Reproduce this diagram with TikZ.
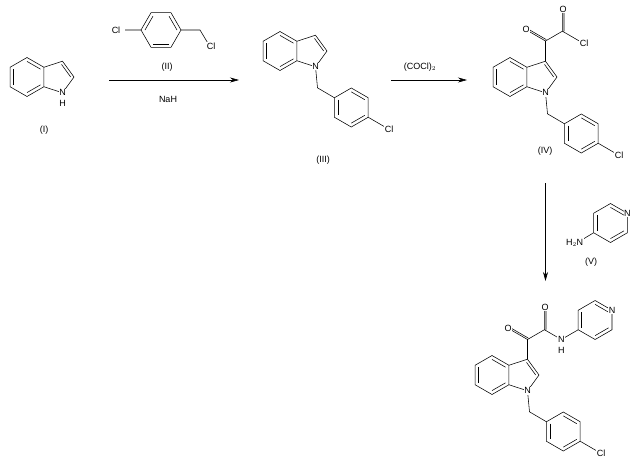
\documentclass[tikz,border=0pt]{standalone}
\usepackage{fontspec}
\setmainfont{Liberation Sans}
\usetikzlibrary{calc,arrows.meta}
\tikzset{bond/.style={line width=0.55pt},
 atom/.style={fill=white,inner sep=0.6pt,font=\fontsize{9}{10}\selectfont},
 lbl/.style={inner sep=0pt,font=\fontsize{9}{10}\selectfont},
 rxn/.style={line width=0.6pt,-{Stealth[length=9pt,width=5pt]}}}
\newcommand\dbin[3]{\draw[bond] ($(#1)!0.2!(#3)$)--($(#2)!0.2!(#3)$);}
\newcommand\Indole[1]{%
\begin{scope}[shift={#1}]
 \coordinate (t) at (0,-19.5); \coordinate (ur) at (16.9,-9.75);
 \coordinate (lr) at (16.9,9.75); \coordinate (b) at (0,19.5);
 \coordinate (ll) at (-16.9,9.75); \coordinate (ul) at (-16.9,-9.75);
 \coordinate (c) at (0,0); \coordinate (p3) at (35.5,-15.8);
 \coordinate (p2) at (47,0); \coordinate (pn) at (35.5,15.8); \coordinate (pc) at (30.4,0);
 \draw[bond] (t)--(ur)--(lr)--(b)--(ll)--(ul)--cycle (ur)--(p3)--(p2)--(pn)--(lr);
 \dbin{ul}{ll}{c}\dbin{t}{ur}{c}\dbin{lr}{b}{c}\dbin{p3}{p2}{pc}
\end{scope}}
\newcommand\Ring[1]{% vertical-sided hexagon, Kekule ul-ll, t-ur, lr-b
\begin{scope}[shift={#1}]
 \coordinate (t) at (0,-19.5); \coordinate (ur) at (16.9,-9.75);
 \coordinate (lr) at (16.9,9.75); \coordinate (b) at (0,19.5);
 \coordinate (ll) at (-16.9,9.75); \coordinate (ul) at (-16.9,-9.75);
 \coordinate (c) at (0,0);
 \draw[bond] (t)--(ur)--(lr)--(b)--(ll)--(ul)--cycle;
 \dbin{ul}{ll}{c}\dbin{t}{ur}{c}\dbin{lr}{b}{c}
\end{scope}}
\begin{document}
\begin{tikzpicture}[x=1pt,y=-1pt]
\useasboundingbox (0,0) rectangle (637,464);
% (I)
\Indole{(27,77)}
\node[atom] (n1) at (62.5,92.8) {N};
\node[lbl] (h1) at (62.5,103) {H};
\node[lbl] (l1) at (44,130) {(I)};
% (II)
\begin{scope}[shift={(161,30)}]
 \coordinate (L) at (-20,0); \coordinate (UL) at (-10,-17.3); \coordinate (UR) at (10,-17.3);
 \coordinate (R) at (20,0); \coordinate (LR) at (10,17.3); \coordinate (LL) at (-10,17.3);
 \coordinate (C) at (0,0);
 \draw[bond] (L)--(UL)--(UR)--(R)--(LR)--(LL)--cycle (R)--(39,0)--(48,15) (L)--(-36,0);
 \dbin{L}{UL}{C}\dbin{UR}{R}{C}\dbin{LR}{LL}{C}
 \node[atom] (cl2a) at (-45,0) {Cl};
 \node[atom] (cl2b) at (50,16) {Cl};
\end{scope}
\node[lbl] (l2) at (167,67) {(II)};
\node[lbl] (nah) at (168,99) {NaH};
\coordinate (a1s) at (109,80); \coordinate (a1e) at (239,80);
\draw[rxn] (a1s)--(a1e);
% (III)
\Indole{(280,51)}
\Ring{(351.3,107.5)}
\draw[bond] (315.5,66.8)--(317.5,87.8)--(ul) (lr)--(385,127);
\node[atom] (n3) at (315.5,66.8) {N};
\node[atom] (cl3) at (389,129) {Cl};
\node[lbl] (l3) at (323,160) {(III)};
\coordinate (a2s) at (391,80); \coordinate (a2e) at (467,80);
\draw[rxn] (a2s)--(a2e);
\node[lbl] (r2) at (420,67) {(COCl)$_2$};
% (IV)
\Indole{(510,77)}
\Ring{(581.3,133.5)}
\draw[bond] (545.5,92.8)--(547.5,113.8)--(ul) (lr)--(615,153);
\node[atom] (n4) at (545.5,92.8) {N};
\node[atom] (cl4a) at (619,155) {Cl};
\draw[bond] (545.5,61.2)--(545.5,41)--(562.4,31.2)--(579.3,41) (562.4,31.2)--(562.4,11.5)
 (564,31.2)--(564,11.5) (545.5,41)--(528.6,31.2) (546.3,39.6)--(529.4,29.8);
\node[atom] (o4a) at (526,29.5) {O};
\node[atom] (o4b) at (563.2,9) {O};
\node[atom] (cl4b) at (584,43) {Cl};
\node[lbl] (l4) at (545,151) {(IV)};
\coordinate (a3s) at (545.5,183); \coordinate (a3e) at (545.5,281);
\draw[rxn] (a3s)--(a3e);
% (V)
\Ring{(610.5,223)}
\draw[bond] (ll)--(580,241);
\node[atom] (n5) at (ur) {N};
\node[atom,anchor=east] (nh2) at (584,242.5) {H$_2$N};
\node[lbl] (l5) at (591,262) {(V)};
% product
\Indole{(492,375)}
\Ring{(563.3,431.5)}
\draw[bond] (527.5,390.8)--(529.5,411.8)--(ul) (lr)--(597,451);
\node[atom] (n6) at (527.5,390.8) {N};
\node[atom] (cl6) at (601,453) {Cl};
\Ring{(595.1,320)}
\node[atom] (n7) at (ur) {N};
\draw[bond] (527.5,359.2)--(527.5,339.5)--(544.4,329.7)--(561.3,339.5)--(ll)
 (544.4,329.7)--(544.4,310) (546,329.7)--(546,310)
 (527.5,339.5)--(510.6,329.7) (528.3,338.1)--(511.4,328.3);
\node[atom] (o6a) at (508,328) {O};
\node[atom] (o6b) at (545.2,307.5) {O};
\node[atom] (nh6) at (561.3,339.5) {N};
\node[lbl] (h6) at (561.3,350) {H};
\end{tikzpicture}
\end{document}
